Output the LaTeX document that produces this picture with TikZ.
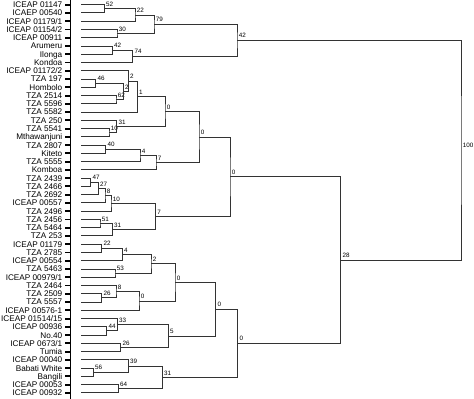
\documentclass[tikz,border=0pt]{standalone}
\usepackage{fontspec}
\setmainfont{Liberation Sans}
\newcommand\mkleaf[3]{%
  \coordinate (l#1) at (81,#2);
  \node[leaflab] (t#1) at (62.5,{#2+2.9}) {#3};
  \draw[tickmark] (65,#2) -- (71,#2);}
\newcommand\inode[4]{%
  \coordinate (#1) at (#2,#3);
  \node[bs] (lab#1) at ({#2+1.6},{#3-2.4}) {#4};}
\begin{document}
\begin{tikzpicture}[x=1pt,y=-1pt,
  br/.style={draw=black!80, line width=1pt},
  leaflab/.style={anchor=base east, inner sep=0pt, font=\fontsize{8.2}{8.2}\selectfont},
  bs/.style={anchor=base west, inner sep=0pt, font=\fontsize{6.3}{6.3}\selectfont},
  tickmark/.style={draw=black, line width=1.9pt}]
\useasboundingbox (0,0) rectangle (474,399);
\draw[black, line width=1.3pt] (70.5,0) -- (70.5,399);
\mkleaf{1}{4.70}{ICEAP 01147}
\mkleaf{2}{12.96}{ICAEP 00540}
\mkleaf{3}{21.22}{ICEAP 01179/1}
\mkleaf{4}{29.48}{ICEAP 01154/2}
\mkleaf{5}{37.74}{ICEAP 00911}
\mkleaf{6}{46.00}{Arumeru}
\mkleaf{7}{54.26}{Ilonga}
\mkleaf{8}{62.52}{Kondoa}
\mkleaf{9}{70.78}{ICEAP 01172/2}
\mkleaf{10}{79.04}{TZA 197}
\mkleaf{11}{87.30}{Hombolo}
\mkleaf{12}{95.56}{TZA 2514}
\mkleaf{13}{103.82}{TZA 5596}
\mkleaf{14}{112.08}{TZA 5582}
\mkleaf{15}{120.34}{TZA 250}
\mkleaf{16}{128.60}{TZA 5541}
\mkleaf{17}{136.86}{Mthawanjuni}
\mkleaf{18}{145.12}{TZA 2807}
\mkleaf{19}{153.38}{Kiteto}
\mkleaf{20}{161.64}{TZA 5555}
\mkleaf{21}{169.90}{Komboa}
\mkleaf{22}{178.16}{TZA 2439}
\mkleaf{23}{186.42}{TZA 2466}
\mkleaf{24}{194.68}{TZA 2692}
\mkleaf{25}{202.94}{ICEAP 00557}
\mkleaf{26}{211.20}{TZA 2496}
\mkleaf{27}{219.46}{TZA 2456}
\mkleaf{28}{227.72}{TZA 5464}
\mkleaf{29}{235.98}{TZA 253}
\mkleaf{30}{244.24}{ICEAP 01179}
\mkleaf{31}{252.50}{TZA 2785}
\mkleaf{32}{260.76}{ICEAP 00554}
\mkleaf{33}{269.02}{TZA 5463}
\mkleaf{34}{277.28}{ICEAP 00979/1}
\mkleaf{35}{285.54}{TZA 2464}
\mkleaf{36}{293.80}{TZA 2509}
\mkleaf{37}{302.06}{TZA 5557}
\mkleaf{38}{310.32}{ICEAP 00576-1}
\mkleaf{39}{318.58}{ICEAP 01514/15}
\mkleaf{40}{326.84}{ICEAP 00936}
\mkleaf{41}{335.10}{No.40}
\mkleaf{42}{343.36}{ICEAP 0673/1}
\mkleaf{43}{351.62}{Tumia}
\mkleaf{44}{359.88}{ICEAP 00040}
\mkleaf{45}{368.14}{Babati White}
\mkleaf{46}{376.40}{Bangili}
\mkleaf{47}{384.66}{ICEAP 00053}
\mkleaf{48}{392.92}{ICEAP 00932}
% cluster A
\inode{n52}{104.3}{8.83}{52}
\inode{n22}{135}{15.03}{22}
\inode{n30}{117}{33.61}{30}
\inode{n79}{154}{24.32}{79}
\inode{n42a}{112.3}{50.13}{42}
\inode{n74}{132.7}{56.33}{74}
\inode{n42}{237}{40.33}{42}
% cluster B1
\inode{n46}{95.7}{83.17}{46}
\inode{n62}{116}{99.69}{62}
\inode{n2b}{123.3}{91.43}{2}
\inode{n2a}{128.3}{81.10}{2}
\inode{n1}{137.3}{96.59}{1}
\inode{n16}{109}{132.73}{10}
\inode{n31a}{116.7}{126.54}{31}
\inode{n0a}{165}{111.56}{0}
\inode{n40}{105.7}{149.25}{40}
\inode{n4a}{140}{155.45}{4}
\inode{n7a}{156}{162.68}{7}
\inode{n0b}{199}{137.12}{0}
\inode{n47}{90.7}{182.29}{47}
\inode{n27}{98.3}{188.49}{27}
\inode{n8a}{105}{195.71}{8}
\inode{n10}{111}{203.46}{10}
\inode{n51}{100}{223.59}{51}
\inode{n31b}{112.3}{229.79}{31}
\inode{n7b}{155.5}{216.62}{7}
\inode{n0c}{230}{176.87}{0}
% cluster B2
\inode{n22b}{101.7}{248.37}{22}
\inode{n4b}{122.3}{254.57}{4}
\inode{n53}{115}{273.15}{53}
\inode{n2c}{151}{263.86}{2}
\inode{n26a}{101.7}{297.93}{26}
\inode{n8b}{116}{291.74}{8}
\inode{n0d}{139}{301.03}{0}
\inode{n0e}{175}{282.45}{0}
\inode{n44}{106.7}{330.97}{44}
\inode{n33}{117.3}{324.78}{33}
\inode{n26b}{120.7}{347.49}{26}
\inode{n5}{168.3}{336.14}{5}
\inode{n0f}{215.7}{309.30}{0}
\inode{n56}{93.3}{372.27}{56}
\inode{n39}{128.3}{366.08}{39}
\inode{n64}{118.3}{388.79}{64}
\inode{n31c}{162.3}{377.44}{31}
\inode{n0g}{237.7}{343.37}{0}
\inode{n28}{340.7}{260.12}{28}
\inode{root}{461}{150.23}{100}
% brackets
\draw[br] (l1) -| (n52) |- (l2);
\draw[br] (n52) -| (n22) |- (l3);
\draw[br] (l4) -| (n30) |- (l5);
\draw[br] (n22) -| (n79) |- (n30);
\draw[br] (l6) -| (n42a) |- (l7);
\draw[br] (n42a) -| (n74) |- (l8);
\draw[br] (n79) -| (n42) |- (n74);
\draw[br] (l10) -| (n46) |- (l11);
\draw[br] (l12) -| (n62) |- (l13);
\draw[br] (n46) -| (n2b) |- (n62);
\draw[br] (l9) -| (n2a) |- (n2b);
\draw[br] (n2a) -| (n1) |- (l14);
\draw[br] (l16) -| (n16) |- (l17);
\draw[br] (l15) -| (n31a) |- (n16);
\draw[br] (n1) -| (n0a) |- (n31a);
\draw[br] (l18) -| (n40) |- (l19);
\draw[br] (n40) -| (n4a) |- (l20);
\draw[br] (n4a) -| (n7a) |- (l21);
\draw[br] (n0a) -| (n0b) |- (n7a);
\draw[br] (l22) -| (n47) |- (l23);
\draw[br] (n47) -| (n27) |- (l24);
\draw[br] (n27) -| (n8a) |- (l25);
\draw[br] (n8a) -| (n10) |- (l26);
\draw[br] (l27) -| (n51) |- (l28);
\draw[br] (n51) -| (n31b) |- (l29);
\draw[br] (n10) -| (n7b) |- (n31b);
\draw[br] (n0b) -| (n0c) |- (n7b);
\draw[br] (l30) -| (n22b) |- (l31);
\draw[br] (n22b) -| (n4b) |- (l32);
\draw[br] (l33) -| (n53) |- (l34);
\draw[br] (n4b) -| (n2c) |- (n53);
\draw[br] (l36) -| (n26a) |- (l37);
\draw[br] (l35) -| (n8b) |- (n26a);
\draw[br] (n8b) -| (n0d) |- (l38);
\draw[br] (n2c) -| (n0e) |- (n0d);
\draw[br] (l40) -| (n44) |- (l41);
\draw[br] (l39) -| (n33) |- (n44);
\draw[br] (l42) -| (n26b) |- (l43);
\draw[br] (n33) -| (n5) |- (n26b);
\draw[br] (n0e) -| (n0f) |- (n5);
\draw[br] (l45) -| (n56) |- (l46);
\draw[br] (l44) -| (n39) |- (n56);
\draw[br] (l47) -| (n64) |- (l48);
\draw[br] (n39) -| (n31c) |- (n64);
\draw[br] (n0f) -| (n0g) |- (n31c);
\draw[br] (n0c) -| (n28) |- (n0g);
\draw[br] (n42) -| (root) |- (n28);
\end{tikzpicture}
\end{document}
